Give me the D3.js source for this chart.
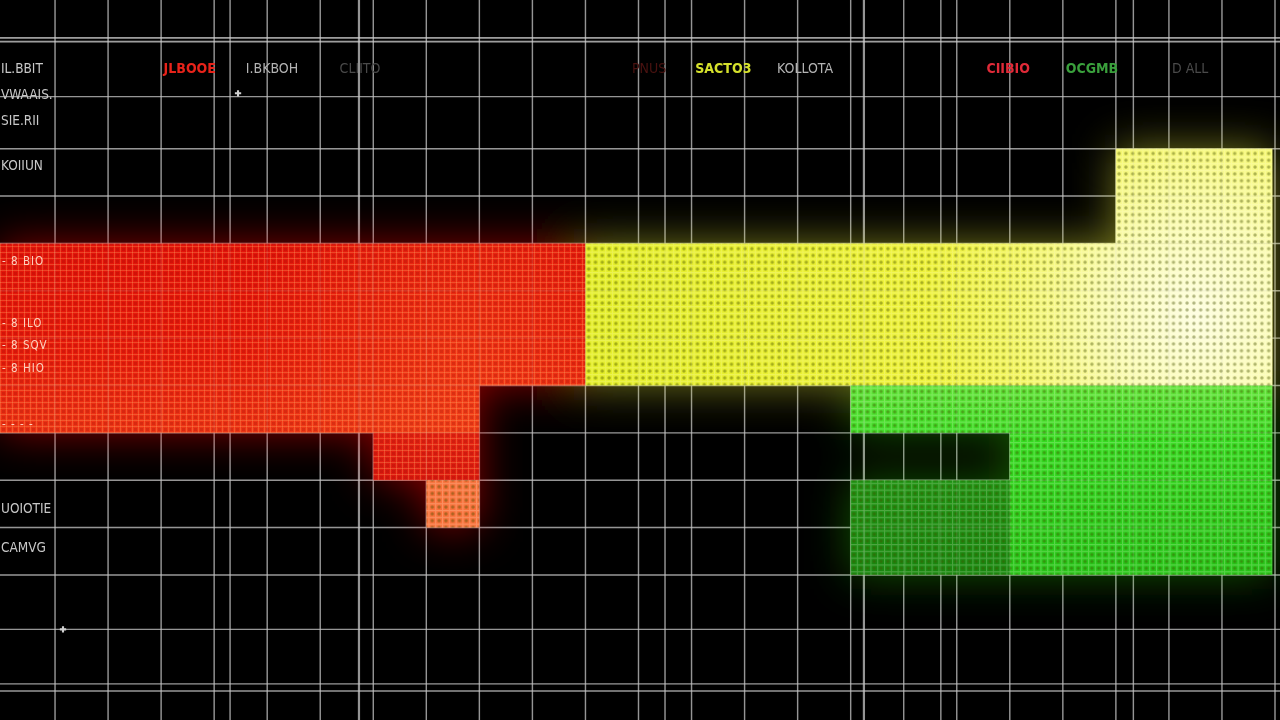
<!DOCTYPE html>
<html><head><meta charset="utf-8">
<script src="https://cdn.jsdelivr.net/npm/d3@7"></script>
<style>html,body{margin:0;background:#000;overflow:hidden}</style>
</head><body><svg id="c" width="1280" height="720"></svg>
<script>
// ---------- data ----------
const series = ["Red", "Orange", "Yellow", "Green"];
// cells: [colStart, colEnd, rowStart, rowEnd]
const redCells = [[-0.05, 9, 4, 8], [9, 11, 4, 7], [7, 9, 8, 9]];
const orangeCells = [[8, 9, 9, 10]];
const yellowCells = [[11, 23.95, 4, 7], [21, 23.95, 2, 4]];
const greenCells = [[16, 23.95, 7, 8], [19, 23.95, 8, 9], [16, 23.95, 9, 11]];
const dimGreenCells = [[16, 19, 9, 11]];
const colGrid = [1, 2, 3, 4, 4.3, 5, 6, 6.73, 7, 8, 9, 10, 11, 12, 12.5, 13, 14, 15, 16, 16.25, 17, 17.7, 18, 19, 20, 21, 21.33, 22, 23, 24];
const strongCols = [6.73, 16.25];
const rowGrid = [0.9, 2, 3, 4, 5, 6, 7, 8, 9, 10, 11, 12.15, 13.3, 13.45];
const frameRows = [-0.34, -0.26];
const headerLabels = ["JLBOOE", "I.BKBOH", "CLIITO", "PNUS", "SACTO3", "KOLLOTA", "CIIBIO", "OCGMB", "D ALL"];
const headerCols = [3.54, 5.09, 6.75, 12.2, 13.6, 15.14, 18.97, 20.55, 22.4];
const headerSeries = ["Red", "Gray", "Dim", "DimRed", "Yellow", "Gray", "Red2", "Green", "Dim"];
const sideLabels = ["IL.BBIT", "VWAAIS.", "SIE.RII", "KOIIUN", "UOIOTIE", "CAMVG"];
const sideRows = [0.3, 0.86, 1.4, 2.36, 9.6, 10.42];
const bandLabels = ["- 8 BIO", "- 8 ILO", "- 8 SQV", "- 8 HIO", "- - - -"];
const bandRows = [4.37, 5.67, 6.14, 6.62, 7.82];
const markers = [[1.15, 12.15], [4.45, 0.83]];

// ---------- scales ----------
const W = 1280, H = 720;
const x = d3.scaleLinear().domain([0, 24]).range([2, 1275]);
const y = d3.scaleLinear().domain([0, 14]).range([54, 717]);
const color = d3.scaleOrdinal().domain(series).range(["#e3170a", "#f8703a", "#eef03a", "#2fd61e"]);
const labelColor = d3.scaleOrdinal()
  .domain(["Red", "Gray", "Dim", "DimRed", "Yellow", "Red2", "Green"])
  .range(["#e8231a", "#b4b4b4", "#4a4a4a", "#4a1210", "#d6e22c", "#e02a38", "#3aa03c"]);

const svg = d3.select("#c");
svg.append("rect").attr("width", W).attr("height", H).attr("fill", "#000");
const defs = svg.append("defs");

// glow filter
const f = defs.append("filter").attr("id", "glow").attr("x", "-20%").attr("y", "-40%").attr("width", "140%").attr("height", "180%");
f.append("feGaussianBlur").attr("stdDeviation", 22);

// gradients
const redG = defs.append("linearGradient").attr("id", "redG").attr("gradientUnits", "userSpaceOnUse")
  .attr("x1", 0).attr("x2", 0).attr("y1", y(4)).attr("y2", y(9));
[[0, "#e2140a"], [0.45, "#e81c0c"], [0.8, "#ee3616"], [0.8, "#e0140e"], [1, "#d8100c"]]
  .forEach(([o, c]) => redG.append("stop").attr("offset", o).attr("stop-color", c));
const redR = defs.append("radialGradient").attr("id", "redR").attr("gradientUnits", "userSpaceOnUse")
  .attr("cx", x(8.6)).attr("cy", y(6.3)).attr("r", 220);
redR.append("stop").attr("offset", 0).attr("stop-color", "#ff6a28").attr("stop-opacity", 0.32);
redR.append("stop").attr("offset", 1).attr("stop-color", "#ff6a28").attr("stop-opacity", 0);

const yelG = defs.append("linearGradient").attr("id", "yelG").attr("gradientUnits", "userSpaceOnUse")
  .attr("x1", x(11)).attr("x2", x(24)).attr("y1", 0).attr("y2", 0);
[[0, "#e4ee28"], [0.5, "#eef23a"], [1, "#f4f650"]]
  .forEach(([o, c]) => yelG.append("stop").attr("offset", o).attr("stop-color", c));
const yelR = defs.append("radialGradient").attr("id", "yelR").attr("gradientUnits", "userSpaceOnUse")
  .attr("cx", x(22.5)).attr("cy", y(5.5)).attr("r", 270);
[[0, 0.9], [0.35, 0.62], [0.7, 0.18], [1, 0]]
  .forEach(([o, a]) => yelR.append("stop").attr("offset", o).attr("stop-color", "#fffff2").attr("stop-opacity", a));

const grnG = defs.append("linearGradient").attr("id", "grnG").attr("gradientUnits", "userSpaceOnUse")
  .attr("x1", 0).attr("x2", 0).attr("y1", y(7)).attr("y2", y(11));
[[0, "#62e43a"], [0.3, "#34da20"], [1, "#26c418"]]
  .forEach(([o, c]) => grnG.append("stop").attr("offset", o).attr("stop-color", c));

// textures
const pDot = defs.append("pattern").attr("id", "dots").attr("patternUnits", "userSpaceOnUse")
  .attr("width", 6.8).attr("height", 6.8);
pDot.append("path").attr("d", "M0,0.5H6.8M0.5,0V6.8").attr("stroke", "rgba(255,255,230,0.22)").attr("stroke-width", 1.2);
pDot.append("circle").attr("cx", 3.9).attr("cy", 3.9).attr("r", 1.7).attr("fill", "rgba(70,80,0,0.42)");
const pRed = defs.append("pattern").attr("id", "redTex").attr("patternUnits", "userSpaceOnUse")
  .attr("width", 6).attr("height", 6);
pRed.append("path").attr("d", "M0,0.5H6M0.5,0V6").attr("stroke", "rgba(255,170,100,0.3)").attr("stroke-width", 1);
pRed.append("rect").attr("x", 2).attr("y", 2).attr("width", 3).attr("height", 3).attr("fill", "rgba(120,0,0,0.18)");

// ---------- grid ----------
function drawGrid(g, op) {
  g.selectAll("line.v").data(colGrid).join("line").attr("class", "v")
    .attr("x1", d => x(d)).attr("x2", d => x(d)).attr("y1", 0).attr("y2", H)
    .attr("stroke", "#c4c4c4").attr("stroke-opacity", op)
    .attr("stroke-width", d => strongCols.includes(d) ? 2.2 : 1.4);
  g.selectAll("line.h").data(rowGrid).join("line").attr("class", "h")
    .attr("x1", 0).attr("x2", W).attr("y1", d => y(d)).attr("y2", d => y(d))
    .attr("stroke", "#c4c4c4").attr("stroke-opacity", op).attr("stroke-width", 1.4);
  g.selectAll("line.f").data(frameRows).join("line").attr("class", "f")
    .attr("x1", 0).attr("x2", W).attr("y1", d => y(d)).attr("y2", d => y(d))
    .attr("stroke", "#d0d0d0").attr("stroke-opacity", op).attr("stroke-width", 1.8);
}
drawGrid(svg.append("g"), 0.72);

const rectAttrs = sel => sel
  .attr("x", d => x(d[0])).attr("width", d => x(d[1]) - x(d[0]))
  .attr("y", d => y(d[2])).attr("height", d => y(d[3]) - y(d[2]));

// ---------- glow ----------
const glow = svg.append("g").attr("filter", "url(#glow)");
glow.selectAll("rect.r").data(redCells.concat(orangeCells)).join("rect").attr("class", "r").call(rectAttrs)
  .attr("fill", color("Red")).attr("opacity", 0.6);
glow.selectAll("rect.y").data(yellowCells).join("rect").attr("class", "y").call(rectAttrs)
  .attr("fill", color("Yellow")).attr("opacity", 0.5);
glow.selectAll("rect.g").data(greenCells).join("rect").attr("class", "g").call(rectAttrs)
  .attr("fill", color("Green")).attr("opacity", 0.4);

// ---------- blocks ----------
const blocks = svg.append("g");
blocks.selectAll("rect.r").data(redCells).join("rect").attr("class", "r").call(rectAttrs).attr("fill", "url(#redG)");
blocks.selectAll("rect.ro").data(redCells).join("rect").attr("class", "ro").call(rectAttrs).attr("fill", "url(#redR)");
blocks.selectAll("rect.o").data(orangeCells).join("rect").attr("class", "o").call(rectAttrs).attr("fill", color("Orange"));
blocks.selectAll("rect.y").data(yellowCells).join("rect").attr("class", "y").call(rectAttrs).attr("fill", "url(#yelG)");
blocks.selectAll("rect.yw").data(yellowCells).join("rect").attr("class", "yw").call(rectAttrs).attr("fill", "url(#yelR)");
blocks.selectAll("rect.g").data(greenCells).join("rect").attr("class", "g").call(rectAttrs).attr("fill", "url(#grnG)");
blocks.selectAll("rect.gd").data(dimGreenCells).join("rect").attr("class", "gd").call(rectAttrs).attr("fill", "rgba(0,30,0,0.36)");
// textures
blocks.selectAll("rect.rt").data(redCells).join("rect").attr("class", "rt").call(rectAttrs).attr("fill", "url(#redTex)");
blocks.selectAll("rect.t").data(orangeCells.concat(yellowCells, greenCells)).join("rect").attr("class", "t").call(rectAttrs).attr("fill", "url(#dots)");

// faint grid on top
drawGrid(svg.append("g"), 0.14);

// ---------- labels ----------
const font = "'Liberation Sans Narrow','DejaVu Sans Condensed','Arial Narrow',sans-serif";
svg.append("g").selectAll("text").data(headerLabels).join("text")
  .attr("x", (d, i) => x(headerCols[i])).attr("y", y(0.3)).attr("dy", "0.35em")
  .attr("text-anchor", "middle").attr("font-family", font).attr("font-size", 14)
  .attr("font-weight", (d, i) => ["Red", "Yellow", "Red2", "Green"].includes(headerSeries[i]) ? "bold" : "normal")
  .attr("fill", (d, i) => labelColor(headerSeries[i])).text(d => d);
svg.append("g").selectAll("text").data(sideLabels).join("text")
  .attr("x", 1).attr("y", (d, i) => y(sideRows[i])).attr("dy", "0.35em")
  .attr("font-family", font).attr("font-size", 13.5).attr("fill", "#c8c8c8").text(d => d);
svg.append("g").selectAll("text").data(bandLabels).join("text")
  .attr("x", 2).attr("y", (d, i) => y(bandRows[i])).attr("dy", "0.35em")
  .attr("font-family", font).attr("font-size", 11.5).attr("fill", "#ffe2d0").attr("fill-opacity", 0.9)
  .attr("letter-spacing", 1).text(d => d);
svg.append("g").selectAll("path").data(markers).join("path")
  .attr("transform", d => `translate(${x(d[0])},${y(d[1])})`)
  .attr("d", d3.symbol().type(d3.symbolCross).size(22)).attr("fill", "#cfcfcf");
</script></body></html>
